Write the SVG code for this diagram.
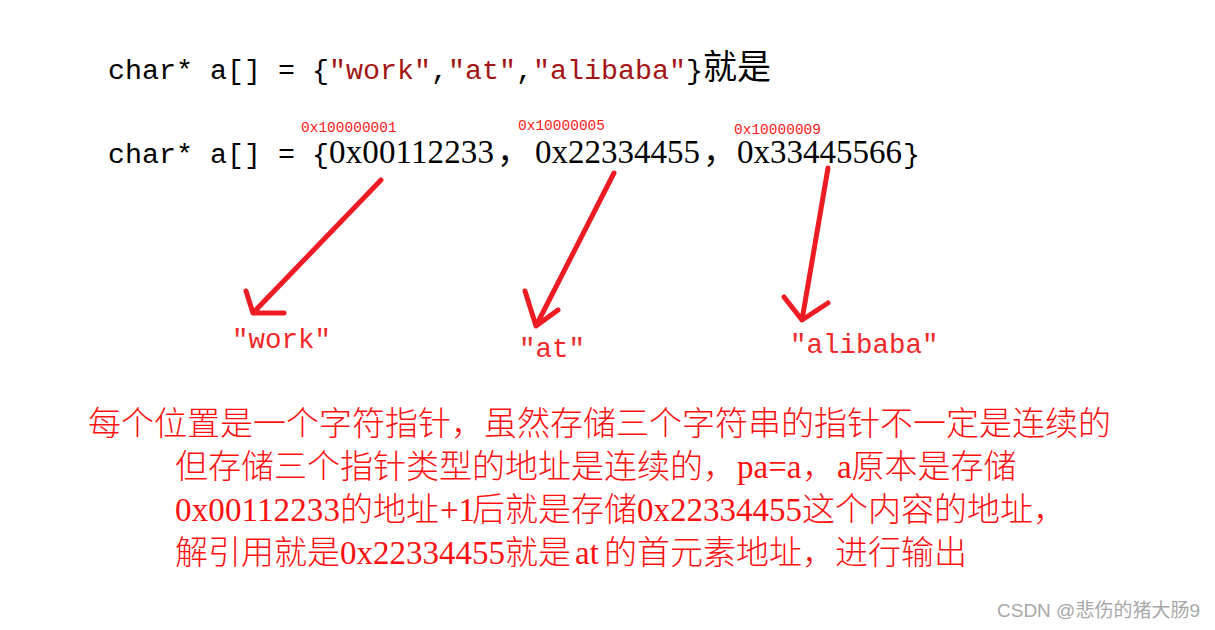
<svg xmlns="http://www.w3.org/2000/svg" width="1215" height="630" viewBox="0 0 1215 630">
<style>
.code{font-family:"Liberation Mono","DejaVu Sans Mono",monospace;font-size:28.33px;fill:#000}
.str{fill:#a31515}
.cjk{font-family:"Noto Sans CJK SC","Noto Sans CJK JP",sans-serif}
.num{font-family:"Liberation Serif","DejaVu Serif",serif;font-size:33px;fill:#000}
.fw{font-family:"Noto Sans CJK SC","Noto Sans CJK JP",sans-serif;font-size:33px;fill:#000}
.addr{font-family:"Liberation Mono",monospace;font-size:14.5px;fill:#ff1a1a}
.lbl{font-family:"Liberation Mono",monospace;font-size:27.5px;fill:#f02828}
.para{font-family:"Noto Sans CJK SC","Noto Sans CJK JP",sans-serif;font-size:33px;font-weight:300;fill:#ff1010}
.lat{font-family:"Liberation Serif","DejaVu Serif",serif;font-weight:400}
.arrow{fill:none;stroke:#ed1c24;stroke-width:5;stroke-linecap:round;stroke-linejoin:round}
.wm{font-family:"Liberation Sans","Noto Sans CJK SC",sans-serif;font-size:19px;fill:#a8a8a8}
</style>
<rect width="1215" height="630" fill="#fff"/>
<g id="code-line-1">
<text class="code" x="108" y="79">char* a[] = {<tspan class="str">"work"</tspan>,<tspan class="str">"at"</tspan>,<tspan class="str">"alibaba"</tspan>}<tspan class="cjk" font-size="34px">就是</tspan></text>
</g>
<g id="code-line-2">
<text class="code" x="108" y="163">char* a[] = {</text>
<text class="num" x="329" y="163" textLength="165" lengthAdjust="spacing">0x00112233</text>
<text class="fw" x="497" y="163">，</text>
<text class="num" x="535" y="163" textLength="165" lengthAdjust="spacing">0x22334455</text>
<text class="fw" x="703" y="163">，</text>
<text class="num" x="737" y="163" textLength="165" lengthAdjust="spacing">0x33445566</text>
<text class="code" x="903" y="163">}</text>
</g>
<g id="addresses">
<text class="addr" x="301" y="132">0x100000001</text>
<text class="addr" x="518" y="130">0x10000005</text>
<text class="addr" x="734" y="134">0x10000009</text>
</g>
<g id="connectors">
<path class="arrow" d="M381,180 L253,313 M246,291 L253,313 L284,313"/>
<path class="arrow" d="M614,173 L536,326 M525,291 L536,326 L558,310"/>
<path class="arrow" d="M828,168 L802,320 M784,297 L802,320 L828,303"/>
</g>
<g id="node-work"><text class="lbl" x="232" y="348">"work"</text></g>
<g id="node-at"><text class="lbl" x="519" y="357">"at"</text></g>
<g id="node-alibaba"><text class="lbl" x="790" y="353">"alibaba"</text></g>
<g id="explanation">
<text class="para" x="88" y="435">每个位置是一个字符指针，虽然存储三个字符串的指针不一定是连续的</text>
<text class="para" y="478"><tspan x="175">但存储三个指针类型的地址是连续的，</tspan><tspan class="lat" x="737">pa=a</tspan><tspan x="802">，</tspan><tspan class="lat" x="837">a</tspan><tspan x="851.5">原本是存储</tspan></text>
<text class="para" y="521"><tspan class="lat" x="175" textLength="165" lengthAdjust="spacing">0x00112233</tspan><tspan x="340">的地址</tspan><tspan class="lat" x="440">+1</tspan><tspan x="472">后就是存储</tspan><tspan class="lat" x="637" textLength="165" lengthAdjust="spacing">0x22334455</tspan><tspan x="802">这个内容的地址，</tspan></text>
<text class="para" y="564"><tspan x="175">解引用就是</tspan><tspan class="lat" x="340" textLength="165" lengthAdjust="spacing">0x22334455</tspan><tspan x="505">就是</tspan><tspan class="lat" x="575">at</tspan><tspan x="604">的首元素地址，进行输出</tspan></text>
</g>
<g id="watermark"><text class="wm" x="997" y="617">CSDN @悲伤的猪大肠9</text></g>
</svg>
